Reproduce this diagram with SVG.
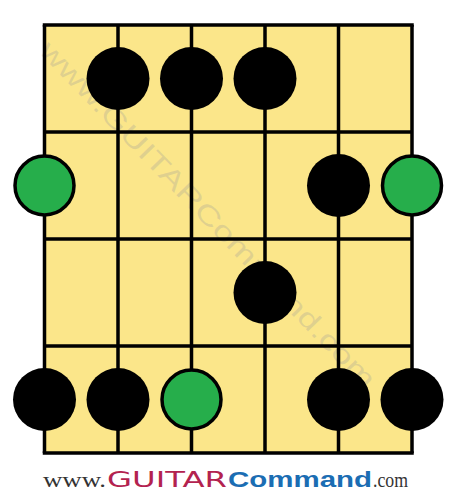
<svg xmlns="http://www.w3.org/2000/svg" width="450" height="504" viewBox="0 0 450 504">
<style>
.board{fill:#fbe68a;stroke:none}
.ln{stroke:#000;stroke-width:3.5;fill:none}
.blk{fill:#000}
.grn{fill:#26ae4b;stroke:#000;stroke-width:3.5}
.wm{font-family:"Liberation Sans",Arial,sans-serif;font-size:27px;fill:#9a9a9a;fill-opacity:0.28}
.ser{font-family:"Liberation Serif","Times New Roman",serif;font-size:22px;fill:#333}
.gt{font-family:"DejaVu Sans","Liberation Sans",sans-serif;font-size:21px;fill:#b3224f}
.cm{font-family:"Liberation Sans",Arial,sans-serif;font-weight:bold;font-size:22px;fill:#1b6db3}
</style>
<g id="board">
<rect class="board" x="44.5" y="25" width="367.5" height="428"/>
<text class="wm" x="0" y="0" transform="translate(38,52) rotate(46)" textLength="470" lengthAdjust="spacingAndGlyphs">www.GUITARCommand.com</text>
</g>
<g id="grid">
<path class="ln" d="M44.5 25V453M118 25V453M191.5 25V453M265 25V453M338.5 25V453M412 25V453"/>
<path class="ln" d="M42.75 25H413.75M44.5 132H412M44.5 239H412M44.5 346H412M42.75 453H413.75"/>
</g>
<g id="dots">
<circle class="blk" cx="118" cy="78.5" r="31.5"/>
<circle class="blk" cx="191.5" cy="78.5" r="31.5"/>
<circle class="blk" cx="265" cy="78.5" r="31.5"/>
<circle class="grn" cx="44.5" cy="185.5" r="29.5"/>
<circle class="blk" cx="338.5" cy="185.5" r="31.5"/>
<circle class="grn" cx="412" cy="185.5" r="29.5"/>
<circle class="blk" cx="265" cy="292.5" r="31.5"/>
<circle class="blk" cx="44.5" cy="399.5" r="31.5"/>
<circle class="blk" cx="118" cy="399.5" r="31.5"/>
<circle class="grn" cx="191.5" cy="399.5" r="29.5"/>
<circle class="blk" cx="338.5" cy="399.5" r="31.5"/>
<circle class="blk" cx="412" cy="399.5" r="31.5"/>
</g>
<g id="footer">
<text class="ser" x="43" y="487" textLength="63" lengthAdjust="spacingAndGlyphs">www.</text>
<text class="gt" x="107" y="487" textLength="120" lengthAdjust="spacingAndGlyphs">GUITAR</text>
<text class="cm" x="228" y="487" textLength="144" lengthAdjust="spacingAndGlyphs">Command</text>
<text class="ser" x="373" y="487" textLength="35" lengthAdjust="spacingAndGlyphs">.com</text>
</g>
</svg>
